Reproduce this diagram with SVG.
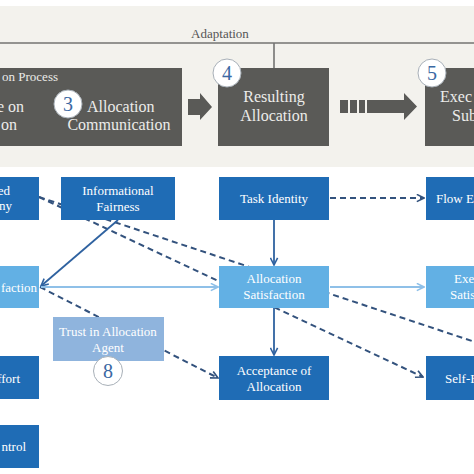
<svg xmlns="http://www.w3.org/2000/svg" width="474" height="474" viewBox="0 0 474 474">
<defs>
<style>
text{font-family:"Liberation Serif","Times New Roman",serif}
.g{fill:#5a5a57}
.gt{fill:#ececea;font-size:16px}
.db{fill:#1f6cb5}
.lb{fill:#62b0e4}
.tb{fill:#8fb4dd}
.wt{fill:#ffffff;font-size:13px}
.c{fill:#ffffff;stroke:#a8b0b8;stroke-width:1}
.cn{fill:#3a68a3;font-size:20px;text-anchor:middle}
.dash{stroke:#33527d;stroke-width:2;stroke-dasharray:6 4;fill:none}
.sd{stroke:#2f62a0;stroke-width:1.8;fill:none}
.sl{stroke:#8fc0e8;stroke-width:2;fill:none}
.m{text-anchor:middle}
.e{text-anchor:end}
</style>
<marker id="ad" viewBox="0 0 10 10" refX="9" refY="5" markerWidth="9" markerHeight="9" markerUnits="userSpaceOnUse" orient="auto"><path d="M1,1 L9,5 L1,9" fill="none" stroke="#33527d" stroke-width="1.8"/></marker>
<marker id="as" viewBox="0 0 10 10" refX="9" refY="5" markerWidth="9" markerHeight="9" markerUnits="userSpaceOnUse" orient="auto"><path d="M1,1 L9,5 L1,9" fill="none" stroke="#2f62a0" stroke-width="1.8"/></marker>
<marker id="al" viewBox="0 0 10 10" refX="9" refY="5" markerWidth="9" markerHeight="9" markerUnits="userSpaceOnUse" orient="auto"><path d="M1,1 L9,5 L1,9" fill="none" stroke="#8fc0e8" stroke-width="1.8"/></marker>
</defs>
<rect width="474" height="474" fill="#ffffff"/>
<rect x="0" y="6" width="474" height="161" fill="#f3f2ed"/>

<g id="connectors">
<text x="220" y="38" class="m" style="font-size:13px;fill:#555">Adaptation</text>
<path d="M0,43 H474 M274,43 V68" stroke="#747472" stroke-width="1.6" fill="none"/>
<path d="M188,99 H200 V93 L212,107 L200,120 V115 H188 Z" fill="#5a5a57"/>
<rect x="340" y="100" width="8" height="13" fill="#5a5a57"/>
<rect x="350" y="100" width="7" height="13" fill="#5a5a57"/>
<rect x="359" y="100" width="6" height="13" fill="#5a5a57"/>
<path d="M367,100 H404 V93 L417,106.5 L404,120 V113 H367 Z" fill="#5a5a57"/>
<path class="dash" d="M39,197 L490,347"/>
<path class="dash" d="M39,197 L423,377" marker-end="url(#ad)"/>
<path class="dash" d="M40,287 L218,378" marker-end="url(#ad)"/>
<path class="dash" d="M330,198 H424" marker-end="url(#ad)"/>
<path class="sd" d="M118,220 L41,286" marker-end="url(#as)"/>
<path class="sd" d="M274,220 V265" marker-end="url(#as)"/>
<path class="sd" d="M274,308 V355" marker-end="url(#as)"/>
<path class="sl" d="M41,287 H218" marker-end="url(#al)"/>
<path class="sl" d="M330,287 H424" marker-end="url(#al)"/>
</g>

<g id="node-process">
<rect x="-5" y="68" width="187" height="78" class="g"/>
<text x="58" y="81" class="e" style="fill:#ececea;font-size:13px">on Process</text>
<text x="24" y="112" class="gt e">e on</text>
<text x="17" y="130" class="gt e">on</text>
<text x="87" y="112" class="gt">Allocation</text>
<text x="119" y="130" class="gt m">Communication</text>
<circle cx="68" cy="104" r="14" class="c"/>
<text x="68" y="111" class="cn">3</text>
</g>

<g id="node-resulting">
<rect x="218" y="68" width="111" height="78" class="g"/>
<text x="274" y="102" class="gt m">Resulting</text>
<text x="274" y="121" class="gt m">Allocation</text>
<circle cx="227" cy="73" r="14" class="c"/>
<text x="227" y="80" class="cn">4</text>
</g>

<g id="node-execution">
<rect x="425" y="68" width="60" height="78" class="g"/>
<text x="440" y="102" class="gt">Exec</text>
<text x="452" y="121" class="gt">Sub</text>
<circle cx="432" cy="73" r="14" class="c"/>
<text x="432" y="80" class="cn">5</text>
</g>

<g id="node-autonomy">
<rect x="-5" y="177" width="44" height="43" class="db"/>
<text x="10" y="195" class="wt e">ed</text>
<text x="12" y="210" class="wt e">ny</text>
</g>
<g id="node-informational">
<rect x="61" y="177" width="114" height="43" class="db"/>
<text x="118" y="195" class="wt m">Informational</text>
<text x="118" y="211" class="wt m">Fairness</text>
</g>
<g id="node-task">
<rect x="219" y="177" width="110" height="43" class="db"/>
<text x="274" y="203" class="wt m">Task Identity</text>
</g>
<g id="node-flow">
<rect x="426" y="177" width="60" height="43" class="db"/>
<text x="436" y="203" class="wt">Flow E</text>
</g>

<g id="node-satisfaction-left">
<rect x="-5" y="266" width="44" height="42" class="lb"/>
<text x="37" y="292" class="wt e">faction</text>
</g>
<g id="node-allocation-satisfaction">
<rect x="219" y="266" width="110" height="42" class="lb"/>
<text x="274" y="283" class="wt m">Allocation</text>
<text x="274" y="299" class="wt m">Satisfaction</text>
</g>
<g id="node-exe-satisfaction">
<rect x="426" y="266" width="60" height="42" class="lb"/>
<text x="454" y="283" class="wt">Exe</text>
<text x="450" y="299" class="wt">Satis</text>
</g>

<g id="node-trust">
<rect x="53" y="317" width="111" height="44" class="tb"/>
<text x="108" y="336" class="wt m">Trust in Allocation</text>
<text x="108" y="352" class="wt m">Agent</text>
<circle cx="108" cy="371" r="14.5" class="c"/>
<text x="108" y="378" class="cn">8</text>
</g>

<g id="node-effort">
<rect x="-5" y="356" width="44" height="43" class="db"/>
<text x="20" y="383" class="wt e">ffort</text>
</g>
<g id="node-acceptance">
<rect x="219" y="356" width="110" height="44" class="db"/>
<text x="274" y="375" class="wt m">Acceptance of</text>
<text x="274" y="391" class="wt m">Allocation</text>
</g>
<g id="node-self">
<rect x="426" y="356" width="60" height="44" class="db"/>
<text x="445" y="383" class="wt">Self-E</text>
</g>
<g id="node-control">
<rect x="-5" y="425" width="44" height="43" class="db"/>
<text x="26" y="451" class="wt e">ntrol</text>
</g>
</svg>
